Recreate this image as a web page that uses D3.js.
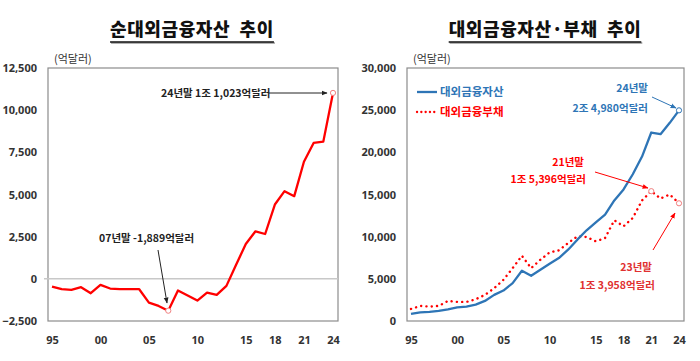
<!DOCTYPE html>
<html><head><meta charset="utf-8">
<script src="https://cdn.jsdelivr.net/npm/d3@7"></script>
<style>
body{margin:0;background:#fff;}
svg{display:block;font-family:"Noto Sans CJK KR","Noto Sans",sans-serif;}
</style></head>
<body><svg id="c" width="700" height="361"></svg>
<script>
const years = d3.range(1995, 2025);
const netAssets = [-456,-615,-655,-496,-853,-357,-575,-615,-615,-615,-1409,-1607,-1889,-694,-992,-1290,-813,-952,-417,833,2063,2817,2659,4405,5198,4901,6944,8056,8135,11023];
const extAssets = [833,1032,1071,1190,1389,1627,1706,1944,2381,3095,3611,4484,5952,5357,6071,6786,7460,8452,9643,10754,11706,12619,14300,15600,17400,19500,22350,22150,23500,24980];
const extLiab = [1429,1786,1706,1786,2381,2262,2262,2579,3095,3889,4881,6270,7738,6270,7262,8135,8373,9246,10040,9960,9444,9841,11944,11230,12222,14300,15396,14524,15000,13958];
const tickYears = [1995,2000,2005,2010,2015,2018,2021,2024];
const tickYearLabels = ["95","00","05","10","15","18","21","24"];
const leftTicks = [-2500,0,2500,5000,7500,10000,12500];
const rightTicks = [0,5000,10000,15000,20000,25000,30000];
const titles = ["순대외금융자산  추이","대외금융자산·부채  추이"];
const seriesNames = ["대외금융자산","대외금융부채"];
const unitLabel = "(억달러)";

const svg = d3.select("#c");
const RED = "#ff0000", BLUE = "#2e75b6", AXIS = "#8c8c8c";
const tickFmt = d3.format(",");

function frame(g, x, y, yTicks){
  const [x0,x1] = x.range(), [y1,y0] = y.range();
  const yAx = g.append("g").attr("transform",`translate(${x0-12},0)`)
    .call(d3.axisLeft(y).tickValues(yTicks).tickSize(0).tickFormat(tickFmt));
  yAx.select(".domain").remove();
  yAx.selectAll("text").attr("font-size",11).attr("font-weight","bold").attr("fill","#333")
    .attr("font-family","'Noto Sans','Liberation Sans',sans-serif");
  const xAx = g.append("g").attr("transform",`translate(0,${y1+12})`)
    .call(d3.axisBottom(x).tickValues(tickYears).tickSize(0).tickFormat((d,i)=>tickYearLabels[i]));
  xAx.select(".domain").remove();
  xAx.selectAll("text").attr("font-size",11).attr("font-weight","bold").attr("fill","#333")
    .attr("font-family","'Noto Sans','Liberation Sans',sans-serif");
  g.append("rect").attr("x",x0-4).attr("y",y0).attr("width",(x1+5)-(x0-4)).attr("height",y1-y0)
    .attr("fill","none").attr("stroke",AXIS).attr("stroke-width",1.2);
  g.append("text").attr("x",x0+2).attr("y",y0-5).attr("font-size",11).attr("fill","#333").text(unitLabel);
}

function title(cx, txt){
  const t = svg.append("text").attr("x",cx).attr("y",36).attr("text-anchor","middle")
    .attr("font-size",18).attr("font-weight","900").attr("letter-spacing",0.6)
    .style("white-space","pre").attr("fill","#111").text(txt);
  const w = t.node().getComputedTextLength();
  svg.append("line").attr("x1",cx-w/2).attr("x2",cx+w/2).attr("y1",42).attr("y2",42)
    .attr("stroke","#999").attr("stroke-width",1.5).attr("transform","translate(1,1)");
  svg.append("line").attr("x1",cx-w/2).attr("x2",cx+w/2).attr("y1",42).attr("y2",42)
    .attr("stroke","#111").attr("stroke-width",1.3);
}

const defs = svg.append("defs");
function marker(id, color){
  defs.append("marker").attr("id",id).attr("viewBox","0 0 10 10").attr("refX",9).attr("refY",5)
    .attr("markerWidth",6).attr("markerHeight",6).attr("orient","auto")
    .append("path").attr("d","M0,1 L10,5 L0,9 Z").attr("fill",color);
}
marker("ak","#222"); marker("ab",BLUE); marker("ar",RED);

function arrow(x1,y1,x2,y2,color,id){
  svg.append("line").attr("x1",x1).attr("y1",y1).attr("x2",x2).attr("y2",y2)
    .attr("stroke",color).attr("stroke-width",1).attr("marker-end",`url(#${id})`);
}
function label(x,y,txt,color,anchor){
  svg.append("text").attr("x",x).attr("y",y).attr("text-anchor",anchor||"start")
    .attr("font-size",10.5).attr("font-weight","bold").attr("fill",color).text(txt);
}

// ---- Left chart ----
title(192, titles[0]);
const xL = d3.scaleLinear().domain([1995,2024]).range([52,333]);
const yL = d3.scaleLinear().domain([-2500,12500]).range([321,68]);
const gL = svg.append("g");
frame(gL, xL, yL, leftTicks);
gL.append("line").attr("x1",44).attr("x2",338).attr("y1",yL(0)).attr("y2",yL(0))
  .attr("stroke","#c8c8c8").attr("stroke-width",1.5);
gL.append("path").datum(netAssets).attr("fill","none").attr("stroke",RED).attr("stroke-width",2.3)
  .attr("stroke-linejoin","round")
  .attr("d", d3.line().x((d,i)=>xL(years[i])).y(d=>yL(d)));
[[2007,-1889],[2024,11023]].forEach(([yr,v])=>{
  gL.append("circle").attr("cx",xL(yr)).attr("cy",yL(v)).attr("r",2.6)
    .attr("fill","#fff").attr("stroke","#f08080").attr("stroke-width",1);
});
label(161, 97, "24년말 1조 1,023억달러", "#222");
arrow(269, 93, 327, 93, "#222", "ak");
label(99, 242, "07년말 -1,889억달러", "#222");
arrow(158, 250, 167, 303, "#222", "ak");

// ---- Right chart ----
title(545, titles[1]);
const xR = d3.scaleLinear().domain([1995,2024]).range([411,679]);
const yR = d3.scaleLinear().domain([0,30000]).range([321,68]);
const gR = svg.append("g");
frame(gR, xR, yR, rightTicks);
gR.append("path").datum(extLiab).attr("fill","none").attr("stroke",RED).attr("stroke-width",2.4)
  .attr("stroke-linecap","round").attr("stroke-dasharray","0.1,5.2")
  .attr("d", d3.line().x((d,i)=>xR(years[i])).y(d=>yR(d)));
gR.append("path").datum(extAssets).attr("fill","none").attr("stroke",BLUE).attr("stroke-width",2.3)
  .attr("stroke-linejoin","round")
  .attr("d", d3.line().x((d,i)=>xR(years[i])).y(d=>yR(d)));
gR.append("circle").attr("cx",xR(2024)).attr("cy",yR(24980)).attr("r",2.6)
  .attr("fill","#fff").attr("stroke",BLUE).attr("stroke-width",1);
[[2021,15396],[2024,13958]].forEach(([yr,v])=>{
  gR.append("circle").attr("cx",xR(yr)).attr("cy",yR(v)).attr("r",2.6)
    .attr("fill","#fff").attr("stroke","#f08080").attr("stroke-width",1);
});
// legend
gR.append("line").attr("x1",417).attr("x2",437).attr("y1",92).attr("y2",92).attr("stroke",BLUE).attr("stroke-width",2.3);
gR.append("text").attr("x",440).attr("y",96).attr("font-size",11.5).attr("font-weight","bold").attr("fill",BLUE).text(seriesNames[0]);
gR.append("line").attr("x1",417).attr("x2",437).attr("y1",112).attr("y2",112).attr("stroke",RED)
  .attr("stroke-width",2.3).attr("stroke-linecap","round").attr("stroke-dasharray","0.1,4.2");
gR.append("text").attr("x",440).attr("y",116).attr("font-size",11.5).attr("font-weight","bold").attr("fill",RED).text(seriesNames[1]);

label(648, 92, "24년말", BLUE, "end");
label(648, 112, "2조 4,980억달러", BLUE, "end");
arrow(652, 97, 676, 108, BLUE, "ab");
label(584, 166, "21년말", RED, "end");
label(586, 183, "1조 5,396억달러", RED, "end");
arrow(595, 172, 648, 188, RED, "ar");
label(652, 271, "23년말", "#e03030", "end");
label(655, 289, "1조 3,958억달러", "#e03030", "end");
arrow(653, 250, 675, 213, RED, "ar");
</script></body></html>
